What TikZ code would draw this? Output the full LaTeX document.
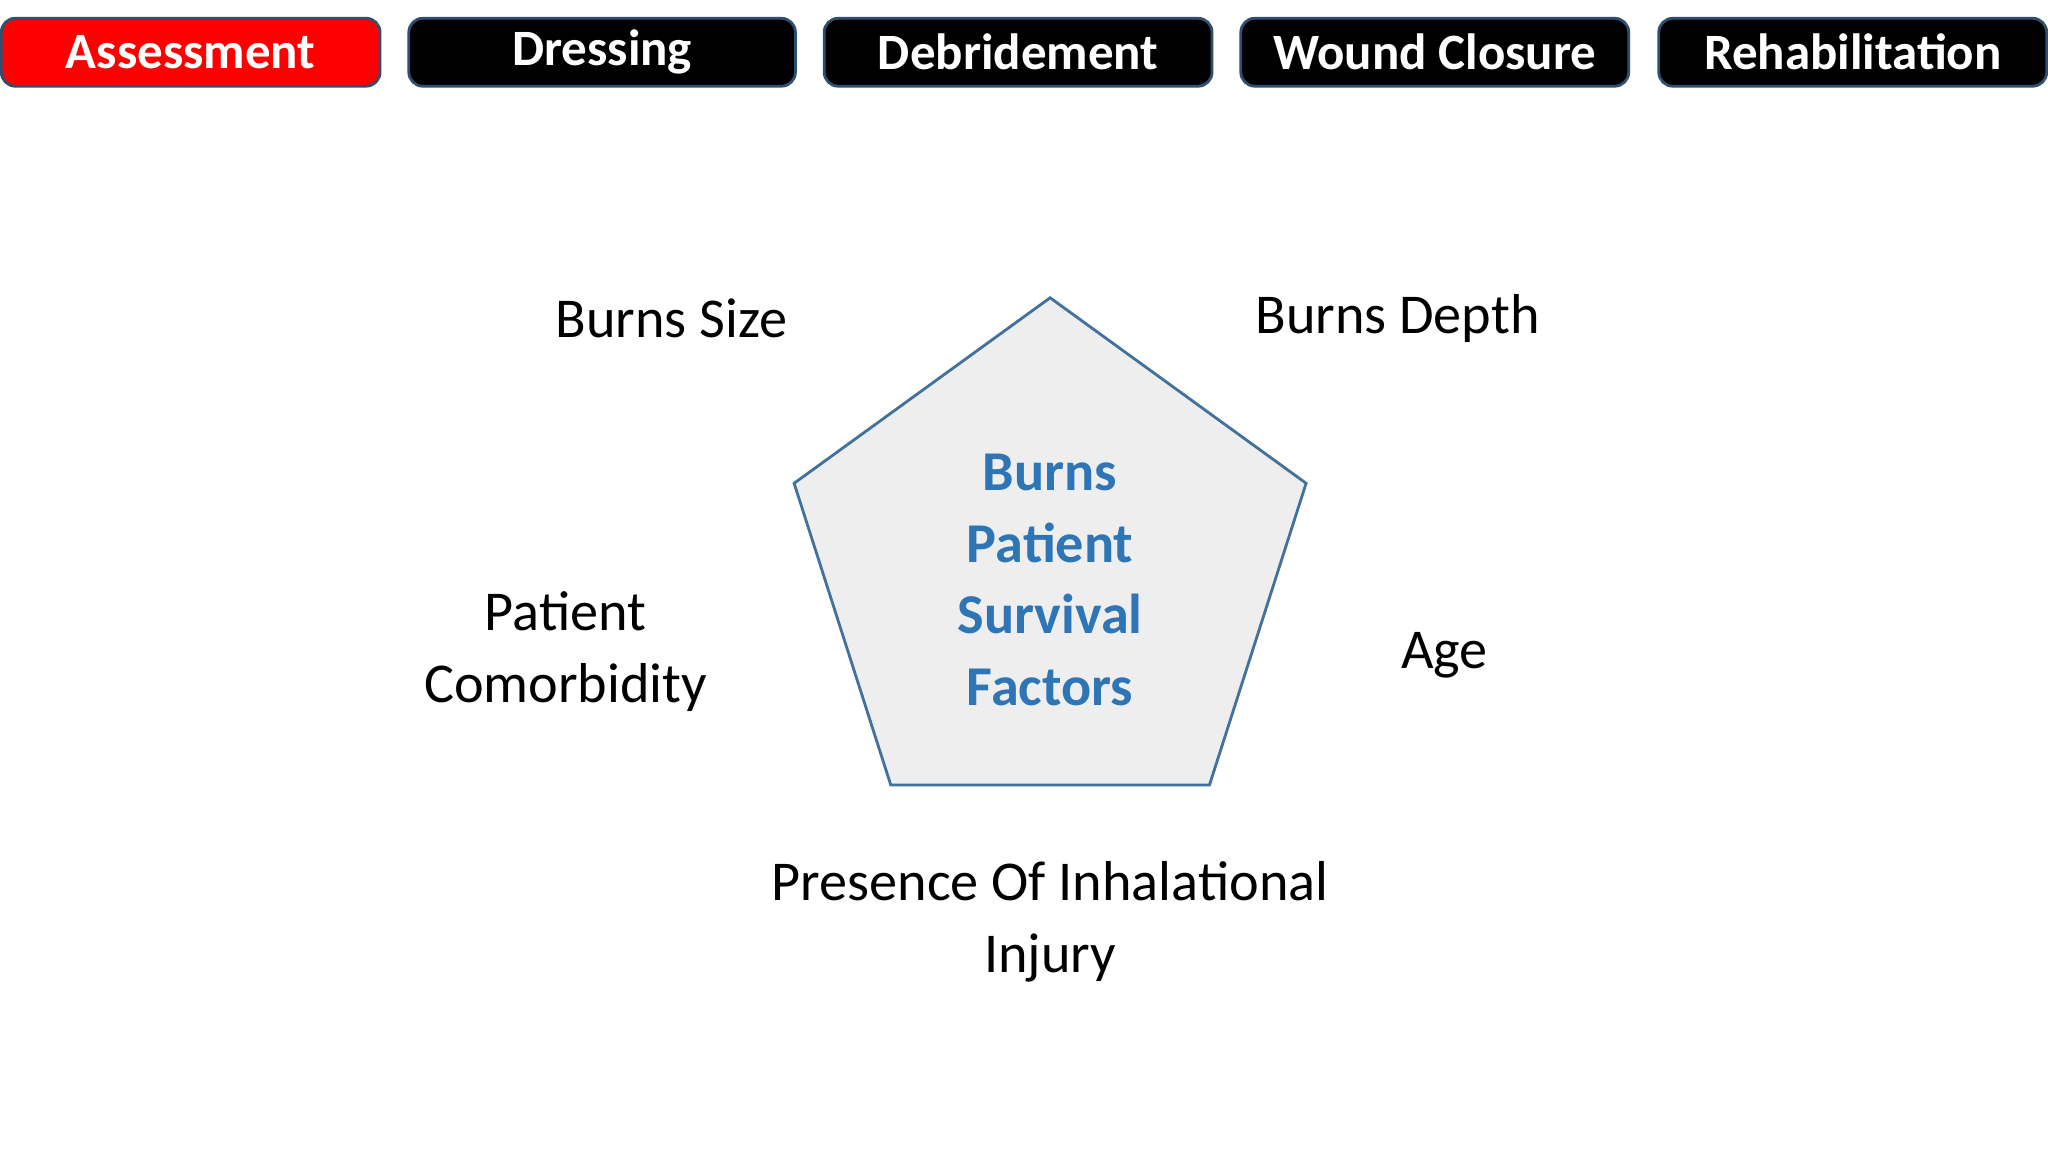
\documentclass[tikz,border=0pt]{standalone}
\usepackage{fontspec}
\setmainfont{Carlito}
\definecolor{pentfill}{HTML}{EEEEEE}
\definecolor{pentline}{HTML}{41719C}
\definecolor{ctext}{HTML}{2E75B6}
\definecolor{hborder}{HTML}{2F4F6F}
\begin{document}
\begin{tikzpicture}[x=0.01306cm,y=-0.01306cm,
  hdr/.style={draw=hborder,line width=0.8pt,rounded corners=3pt,fill=black,text=white,
    font=\fontsize{14.5}{17}\selectfont\bfseries,minimum width=296\pgfmathresult,inner sep=0pt},
  lab/.style={font=\fontsize{16}{20.4}\selectfont,align=center,text=black}]
\useasboundingbox (0,0) rectangle (1568,882);
\fill[white] (0,0) rectangle (1568,882);
\foreach \n/\a/\b/\t/\c in {h1/1/291/Assessment/red, h2/313/609/Dressing/black, h3/631/928/Debridement/black, h4/950/1247/Wound Closure/black, h5/1270/1567/Rehabilitation/black}{
  \draw[hborder,line width=0.8pt,rounded corners=4pt,fill=\c] (\a,14) rectangle (\b,66);
  \node[text=white,font=\fontsize{14.5}{17}\selectfont\bfseries] (\n) at ({(\a+\b)/2},40) {\t};
}
\draw[pentline,fill=pentfill,line width=0.8pt] (804,228) -- (1000,370) -- (926,601) -- (682,601) -- (608,370) -- cycle;
\node[font=\fontsize{16}{20.4}\selectfont\bfseries,text=ctext,align=center] (center) at (804,444) {Burns\\Patient\\Survival\\Factors};
\node[lab] (size) at (514,244) {Burns Size};
\node[lab] (depth) at (1070,244) {Burns Depth};
\node[lab] (comorb) at (433,499) {Patient\\Comorbidity};
\node[lab] (age) at (1106,502) {Age};
\node[lab] (inhal) at (804,706) {Presence Of Inhalational\\Injury};
\end{tikzpicture}
\end{document}
